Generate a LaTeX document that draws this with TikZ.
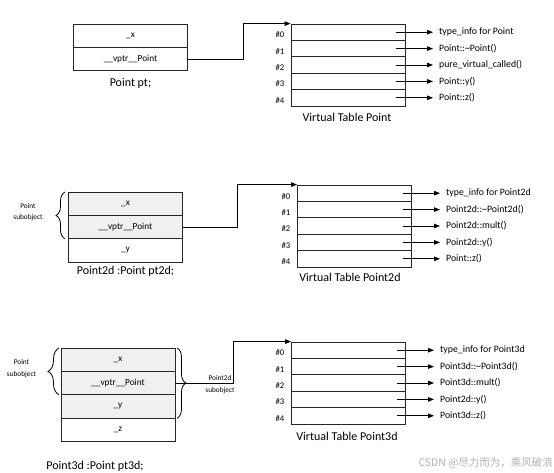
\documentclass[tikz,border=0pt]{standalone}
\usepackage{fontspec}
\setmainfont{Carlito}
\newfontfamily\cjk{Noto Sans CJK SC}
\usetikzlibrary{arrows.meta,decorations.pathreplacing}
\begin{document}
\begin{tikzpicture}
    [
        x=1pt, y=-1pt,
        cell/.style={rectangle, draw=black!85, line width=0.8pt, minimum width=114pt, minimum height=23.4pt, inner sep=0pt, font=\fontsize{9.3}{10}\selectfont},
        subcell/.style={cell, fill=black!6},
        slot/.style={rectangle, draw=black!85, line width=0.8pt, minimum width=114pt, minimum height=16.4pt, inner sep=0pt},
        idx/.style={inner sep=0pt, font=\fontsize{8.7}{9}\selectfont},
        fn/.style={anchor=west, inner xsep=6pt, inner ysep=0pt, font=\fontsize{9.8}{10}\selectfont},
        caption/.style={inner sep=0pt, font=\fontsize{12}{13}\selectfont},
        note/.style={align=center, inner sep=0pt, font=\fontsize{7.3}{11.5}\selectfont},
        edge/.style={-{Triangle[length=6pt,width=4.5pt]}, line width=0.8pt},
        brc/.style={decorate, decoration={brace, amplitude=9pt}, line width=0.8pt},
    ]
    \useasboundingbox (0,0) rectangle (554,473);

    % Point pt
    \node (o1a) at (130.5,35.7) [cell] {\_x};
    \node (o1b) at (130.5,59.1) [cell] {\_\_vptr\_\_Point};
    \node (c1)  at (130.5,83)   [caption] {Point pt;};

    \node (v1r0) at (348,32.2) [slot] {};
    \node (v1r1) at (348,48.6) [slot] {};
    \node (v1r2) at (348,65.0) [slot] {};
    \node (v1r3) at (348,81.4) [slot] {};
    \node (v1r4) at (348,97.8) [slot] {};
    \node (i10) at (280,34.7)  [idx] {\#0};
    \node (i11) at (280,51.1)  [idx] {\#1};
    \node (i12) at (280,67.5)  [idx] {\#2};
    \node (i13) at (280,83.9)  [idx] {\#3};
    \node (i14) at (280,100.3) [idx] {\#4};
    \node (f10) at (433,32.2) [fn] {type\_info for Point};
    \node (f11) at (433,48.6) [fn] {Point::\textasciitilde Point()};
    \node (f12) at (433,65.0) [fn] {pure\_virtual\_called()};
    \node (f13) at (433,81.4) [fn] {Point::y()};
    \node (f14) at (433,97.8) [fn] {Point::z()};
    \node (t1)  at (347,117)  [caption] {Virtual Table Point};
    \draw [edge] ([xshift=-9pt]v1r0.east) -- (f10.west);
    \draw [edge] ([xshift=-9pt]v1r1.east) -- (f11.west);
    \draw [edge] ([xshift=-9pt]v1r2.east) -- (f12.west);
    \draw [edge] ([xshift=-9pt]v1r3.east) -- (f13.west);
    \draw [edge] ([xshift=-9pt]v1r4.east) -- (f14.west);
    \draw [edge] (o1b.east) -- ++(55,0) |- (v1r0.north west);

    % Point2d pt2d
    \node (o2a) at (125.5,203.7) [subcell] {\_x};
    \node (o2b) at (125.5,227.1) [subcell] {\_\_vptr\_\_Point};
    \node (o2c) at (125.5,250.5) [cell] {\_y};
    \node (c2)  at (125.5,271)   [caption] {Point2d :Point pt2d;};
    \draw [brc] (65,238.8) -- (65,192);
    \node (n2) at (28,212) [note] {Point\\subobject};

    \node (v2r0) at (354.5,193.2) [slot] {};
    \node (v2r1) at (354.5,209.6) [slot] {};
    \node (v2r2) at (354.5,226.0) [slot] {};
    \node (v2r3) at (354.5,242.4) [slot] {};
    \node (v2r4) at (354.5,258.8) [slot] {};
    \node (i20) at (286,196.2) [idx] {\#0};
    \node (i21) at (286,212.6) [idx] {\#1};
    \node (i22) at (286,229.0) [idx] {\#2};
    \node (i23) at (286,245.4) [idx] {\#3};
    \node (i24) at (286,261.8) [idx] {\#4};
    \node (f20) at (440,193.2) [fn] {type\_info for Point2d};
    \node (f21) at (440,209.6) [fn] {Point2d::\textasciitilde Point2d()};
    \node (f22) at (440,226.0) [fn] {Point2d::mult()};
    \node (f23) at (440,242.4) [fn] {Point2d::y()};
    \node (f24) at (440,258.8) [fn] {Point::z()};
    \node (t2)  at (350,277)   [caption] {Virtual Table Point2d};
    \draw [edge] ([xshift=-9pt]v2r0.east) -- (f20.west);
    \draw [edge] ([xshift=-9pt]v2r1.east) -- (f21.west);
    \draw [edge] ([xshift=-9pt]v2r2.east) -- (f22.west);
    \draw [edge] ([xshift=-9pt]v2r3.east) -- (f23.west);
    \draw [edge] ([xshift=-9pt]v2r4.east) -- (f24.west);
    \draw [edge] (o2b.east) -- ++(54,0) |- (v2r0.north west);

    % Point3d pt3d
    \node (o3a) at (118,359.7) [subcell] {\_x};
    \node (o3b) at (118,383.1) [subcell] {\_\_vptr\_\_Point};
    \node (o3c) at (118,406.5) [subcell] {\_y};
    \node (o3d) at (118,429.9) [cell] {\_z};
    \node (c3)  at (95,466)    [caption] {Point3d :Point pt3d;};
    \draw [brc, decoration={amplitude=11pt}] (59,394.8) -- (59,348);
    \node (n3) at (21.5,368.5) [note] {Point\\subobject};

    \node (v3r0) at (348.5,350.2) [slot] {};
    \node (v3r1) at (348.5,366.6) [slot] {};
    \node (v3r2) at (348.5,383.0) [slot] {};
    \node (v3r3) at (348.5,399.4) [slot] {};
    \node (v3r4) at (348.5,415.8) [slot] {};
    \node (i30) at (280,352.7) [idx] {\#0};
    \node (i31) at (280,369.1) [idx] {\#1};
    \node (i32) at (280,385.5) [idx] {\#2};
    \node (i33) at (280,401.9) [idx] {\#3};
    \node (i34) at (280,418.3) [idx] {\#4};
    \node (f30) at (434,350.2) [fn] {type\_info for Point3d};
    \node (f31) at (434,366.6) [fn] {Point3d::\textasciitilde Point3d()};
    \node (f32) at (434,383.0) [fn] {Point3d::mult()};
    \node (f33) at (434,399.4) [fn] {Point2d::y()};
    \node (f34) at (434,415.8) [fn] {Point3d::z()};
    \node (t3)  at (347,436)   [caption] {Virtual Table Point3d};
    \draw [edge] ([xshift=-9pt]v3r0.east) -- (f30.west);
    \draw [edge] ([xshift=-9pt]v3r1.east) -- (f31.west);
    \draw [edge] ([xshift=-9pt]v3r2.east) -- (f32.west);
    \draw [edge] ([xshift=-9pt]v3r3.east) -- (f33.west);
    \draw [edge] ([xshift=-9pt]v3r4.east) -- (f34.west);
    \draw [edge] (o3b.east) -- ++(58,0) |- (v3r0.north west);
    \draw [brc] (177,348) -- (177,418.2);
    \node (n4) at (220,384.5) [note] {Point2d\\subobject};

    \node (wm) at (553,463) [anchor=east, inner sep=0pt, text=black!30, font=\cjk\fontsize{10.5}{12}\selectfont] {CSDN @尽力而为，乘风破浪};

\end{tikzpicture}
\end{document}
